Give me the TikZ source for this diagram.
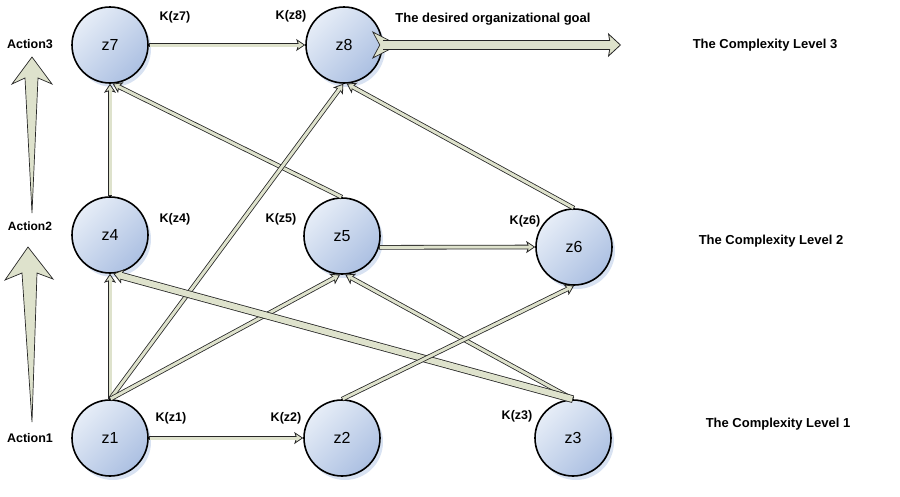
\documentclass[tikz,border=0pt]{standalone}
\usepackage{fontspec}
\setmainfont{Liberation Sans}
\usetikzlibrary{arrows.meta,positioning,shadows}
\definecolor{cream}{RGB}{222,226,204}
\definecolor{zlight}{RGB}{230,237,247}
\definecolor{zdark}{RGB}{172,192,226}
\definecolor{zshadow}{RGB}{216,226,242}

\begin{document}
\begin{tikzpicture}[
  x=1pt, y=-1pt,
  font=\bfseries\fontsize{12.5}{14}\selectfont,
  state/.style={circle, draw=black, line width=1.6pt, minimum size=76pt, top color=zlight, bottom color=zdark, shading angle=45, font=\fontsize{16}{18}\selectfont, drop shadow={shadow xshift=3pt, shadow yshift=-4pt, fill=zshadow, opacity=1}},
  link/.style={draw=black!85, line width=4.6pt, -{Stealth[length=9pt, width=12pt, inset=2pt, fill=cream, line width=0.8pt]},
    postaction={draw=cream, line width=3pt, -, shorten >=6pt, shorten <=0.8pt}},
  wide link/.style={draw=black!85, line width=7.6pt, -{Stealth[length=10pt, width=15pt, inset=2pt, fill=cream, line width=0.8pt]},
    postaction={draw=cream, line width=6pt, -, shorten >=7pt, shorten <=0.8pt}},
  goalarrow/.style={draw=black!85, line width=9.5pt, -{Stealth[length=13pt, width=24pt, inset=2pt, fill=cream, line width=0.8pt]},
    postaction={draw=cream, line width=8pt, -, shorten >=10pt}},
  bigarrow/.style={draw=black!85, line width=0.7pt, fill=cream},
  level/.style={font=\bfseries\fontsize{13}{15}\selectfont}
]
\useasboundingbox (0,0) rectangle (900,496);

% states
\node[state] (z7) at (110,45) {z7};
\node[state] (z8) at (344,45) {z8};
\node[state] (z4) at (110,235) {z4};
\node[state] (z5) at (342,236) {z5};
\node[state] (z6) at (574,247) {z6};
\node[state] (z1) at (110,438) {z1};
\node[state] (z2) at (342,438) {z2};
\node[state] (z3) at (573,438) {z3};
\coordinate (goal) at (621,45);

% K labels
\node (kz7) at (175,17) {K(z7)};
\node (kz8) at (291,16) {K(z8)};
\node (kz4) at (175,219) {K(z4)};
\node (kz5) at (281,219) {K(z5)};
\node (kz6) at (525,221) {K(z6)};
\node (kz1) at (171,418) {K(z1)};
\node (kz2) at (286,418) {K(z2)};
\node (kz3) at (517,416) {K(z3)};

% actions and levels
\node (act3) at (30,44) {Action3};
\node[font=\bfseries\fontsize{12}{14}\selectfont] (act2) at (30,226) {Action2};
\node (act1) at (30,438) {Action1};
\node[level] (lev3) at (765,45) {The Complexity Level 3};
\node[level] (lev2) at (771,241) {The Complexity Level 2};
\node[level] (lev1) at (778,424) {The Complexity Level 1};
\node[level] (goaltext) at (493,19) {The desired organizational goal};

% big arrows on the left
\draw[bigarrow] (32,57) -- (52,84) -- (38,78) -- (32,213) -- (25,78) -- (12,84) -- cycle;
\draw[bigarrow] (28,247) -- (53,279) -- (37,273) -- (32,422) -- (22,273) -- (5,280) -- cycle;

% connectors
\draw[link] (z1.east) -- (z2.west);
\draw[link] (z7.east) -- (z8.west);
\draw[link] (z1.north) -- (z4.south);
\draw[link] (z4.north) -- (z7.south);
\draw[link] (z5.north) -- (z7.-86);
\draw[link] (z1.north) -- (z8.-91);
\draw[link] (z6.north) -- (z8.-86);
\draw[link] (z1.north) -- (z5.-93);
\draw[link] (z3.north) -- (z5.-85);
\draw[wide link] (z3.north) -- (z4.-85);
\draw[link] (z2.north) -- (z6.south);
\draw[link] (z5.-17) -- (z6.west);

% goal arrow with notched tail
\draw[bigarrow] ([shift={(-10,-13)}]z8.east) -- ([shift={(6,-4.75)}]z8.east) -- ([shift={(6,4.75)}]z8.east)
  -- ([shift={(-10,13)}]z8.east) -- ([shift={(-3,0)}]z8.east) -- cycle;
\draw[goalarrow] (z8.east) -- (goal);
\end{tikzpicture}
\end{document}
